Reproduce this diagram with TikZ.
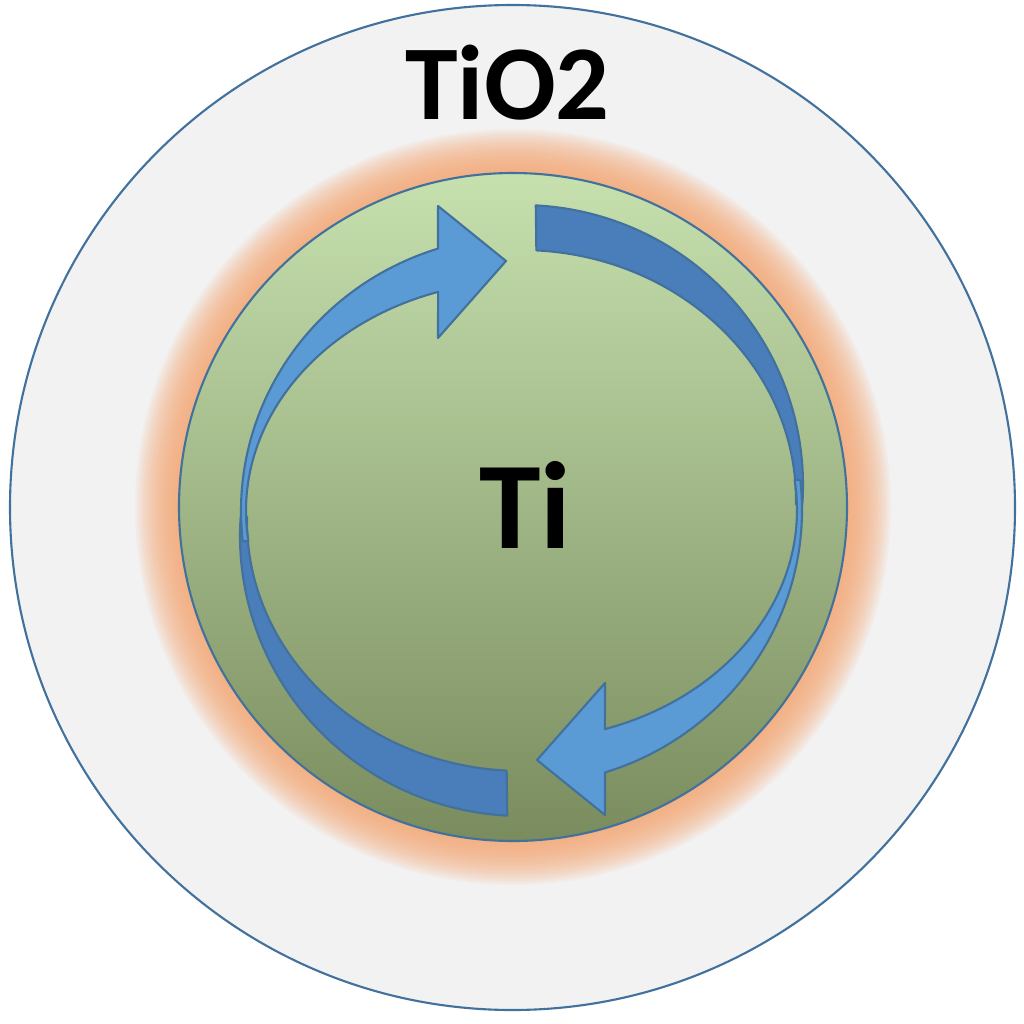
\documentclass[tikz,border=0pt]{standalone}
\usepackage{fontspec}
\setmainfont{Carlito}
\usepackage{xcolor}
\usepackage{tikz}
\usetikzlibrary{calc}
\definecolor{shellgray}{HTML}{F2F2F2}
\definecolor{rimblue}{HTML}{41719C}
\definecolor{gloworange}{HTML}{F7AA76}
\definecolor{coretop}{HTML}{C6E0AE}
\definecolor{corebottom}{HTML}{7A8C5E}
\definecolor{arrowfront}{HTML}{5B9BD5}
\definecolor{arrowback}{HTML}{4A7EBB}

\newcommand{\halfcycle}{%
	\filldraw[backpart] ($(521,485)+(-87:282 and 280)$) arc[start angle=-87, end angle=4, x radius=282, y radius=280]
		-- ($(521,500)+(1:275 and 250)$) arc[start angle=1, end angle=-86.8, x radius=275, y radius=250] -- cycle;
	\filldraw[frontpart] ($(521,510)+(-6.3:281 and 275)$) arc[start angle=-6.3, end angle=72.6, x radius=281, y radius=275]
		-- (605,815) -- (537,760) -- (605,683) -- ($(521,510)+(72.3:276 and 230)$)
		arc[start angle=72.3, end angle=-7.5, x radius=276, y radius=230] -- cycle;
}

\begin{document}
\begin{tikzpicture}[x=0.01cm, y=-0.01cm,
		shell/.style={fill=shellgray, draw=rimblue, line width=0.6pt},
		core/.style={top color=coretop, bottom color=corebottom, draw=rimblue, line width=0.6pt},
		backpart/.style={fill=arrowback, draw=rimblue, line width=0.6pt, line join=round},
		frontpart/.style={fill=arrowfront, draw=rimblue, line width=0.6pt, line join=round},
		elem/.style={inner sep=0pt, anchor=base, text=black}]
	\useasboundingbox (0,0) rectangle (1024,1024);
	\fill[white] (0,0) rectangle (1024,1024);
	\path[shell] (512.5,507.5) circle[radius=502.5];
	\foreach \r in {336,338,...,378}
	{
		\fill[gloworange, opacity=0.08] (513,507) circle[radius=\r];
	}
	\path[core] (513,507) circle[radius=334];
	\halfcycle
	\begin{scope}[rotate around={180:(521.5,510.5)}]
		\halfcycle
	\end{scope}
	\node[elem, font=\bfseries\fontsize{30.2}{36}\selectfont] (oxide) at (507.5,120) {TiO2};
	\node[elem, font=\bfseries\fontsize{35.3}{42}\selectfont] (metal) at (525,548) {Ti};
\end{tikzpicture}
\end{document}
